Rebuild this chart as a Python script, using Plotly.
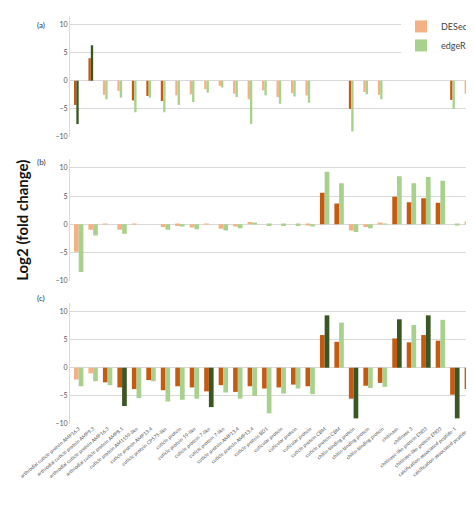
import plotly.graph_objects as go
from plotly.subplots import make_subplots

genes = [
    "arthrodial cuticle protein AMP16.3", "arthrodial cuticle protein AMP9.3",
    "arthrodial cuticle protein AMP16.3", "arthrodial cuticle protein AMP8.1",
    "cuticle protein AM1159-like", "cuticle protein AMP13.4",
    "cuticle protein CP575-like", "cuticle protein", "cuticle protein 19-like",
    "cuticle protein 7-like", "cuticle protein 7-like", "cuticle protein AMP13.4",
    "cuticle protein AMP13.4", "cuticle protein BD1", "cuticular protein",
    "cuticular protein", "cuticular protein", "cuticle protein CBM",
    "cuticle protein CBM", "chitin-binding protein", "chitin-binding protein",
    "chitin-binding protein", "chitinase", "chitinase 3",
    "chitinase-like protein EN03", "chitinase-like protein EN03",
    "calcification-associated peptide-1", "calcification-associated peptide-1",
]

deseq_a = [-4.3, 4.0, -2.5, -1.8, -3.5, -2.7, -3.6, -2.6, -2.4, -1.5, -0.9, -2.3, -3.3, -1.7,
           -2.9, -2.2, -2.6, 0, 0, -5.0, -2.0, -2.5, 0, 0, 0, 0, -3.4, -2.3]
edger_a = [-7.7, 6.3, -3.3, -3.0, -5.6, -3.0, -5.6, -4.3, -3.8, -2.1, -1.2, -2.9, -7.7, -2.6,
           -4.1, -2.8, -3.9, 0, 0, -9.0, -2.4, -3.3, 0, 0, 0, 0, -5.0, -3.2]
deseq_b = [-4.9, -1.0, 0.1, -1.0, 0.1, 0, -0.5, -0.3, -0.6, 0.1, -0.8, -0.4, 0.4, 0,
           0, 0, -0.2, 5.6, 3.7, -1.1, -0.5, 0.2, 4.9, 3.9, 4.6, 3.8, 0, 0.5]
edger_b = [-8.5, -2.0, 0, -1.7, 0, 0, -1.0, -0.4, -0.9, 0, -1.1, -0.7, 0.3, -0.3,
           -0.3, -0.3, -0.4, 9.3, 7.3, -1.4, -0.7, 0.1, 8.5, 7.3, 8.4, 7.7, -0.2, 0.5]
deseq_c = [-2.1, -1.0, -2.6, -3.5, -3.8, -2.2, -4.0, -3.3, -3.5, -4.2, -3.1, -4.3, -3.3, -3.7,
           -3.5, -3.0, -3.3, 5.8, 4.6, -5.5, -3.2, -2.7, 5.2, 4.5, 5.8, 4.8, -4.8, -3.8]
edger_c = [-3.3, -2.4, -3.1, -6.8, -5.4, -2.4, -6.0, -5.7, -5.5, -7.0, -4.4, -5.5, -5.0, -8.1,
           -4.6, -3.7, -4.7, 9.3, 8.0, -9.0, -3.6, -3.4, 8.6, 7.6, 9.3, 8.5, -9.0, -5.6]

# 1 = significant (dark shade), 0 = not significant (light shade)
sig_deseq_a = [1, 1, 0, 0, 1, 1, 1, 0, 0, 0, 0, 0, 0, 0, 0, 0, 0, 0, 0, 1, 0, 0, 0, 0, 0, 0, 1, 0]
sig_edger_a = [1, 1] + [0] * 26
sig_deseq_b = [0] * 17 + [1, 1, 0, 0, 0, 1, 1, 1, 1, 0, 0]
sig_edger_b = [0] * 28
sig_deseq_c = [0, 0] + [1] * 26
sig_edger_c = [0, 0, 0, 1, 0, 0, 0, 0, 0, 1, 0, 0, 0, 0, 0, 0, 0, 1, 0, 1, 0, 0, 1, 0, 1, 0, 1, 0]

ORANGE = ("#F4B183", "#C55A11")
GREEN = ("#A9D18E", "#385723")

x = list(range(len(genes)))
fig = make_subplots(rows=3, cols=1, shared_xaxes=True, vertical_spacing=0.055)

panels = [(deseq_a, edger_a, sig_deseq_a, sig_edger_a),
          (deseq_b, edger_b, sig_deseq_b, sig_edger_b),
          (deseq_c, edger_c, sig_deseq_c, sig_edger_c)]
for r, (d, e, sd, se) in enumerate(panels, start=1):
    fig.add_trace(go.Bar(x=x, y=d, name="DESeq2", marker_color=[ORANGE[s] for s in sd],
                         showlegend=False), row=r, col=1)
    fig.add_trace(go.Bar(x=x, y=e, name="edgeR", marker_color=[GREEN[s] for s in se],
                         showlegend=False), row=r, col=1)
    fig.update_yaxes(range=[-10, 11.5], tickvals=[-10, -5, 0, 5, 10],
                     ticktext=["−10", "−5", "0", "5", "10"], showgrid=True,
                     gridcolor="#d9d9d9", zeroline=False, tickfont=dict(size=7, color="#555"),
                     showline=True, linecolor="#d9d9d9", row=r, col=1)

# legend entries in the light shades
fig.add_trace(go.Bar(x=[None], y=[None], name="DESeq2", marker_color=ORANGE[0]), row=1, col=1)
fig.add_trace(go.Bar(x=[None], y=[None], name="edgeR", marker_color=GREEN[0]), row=1, col=1)

fig.update_xaxes(tickvals=x, ticktext=genes, tickangle=-40, tickfont=dict(size=5, color="#555"),
                 showgrid=False, range=[-0.6, 27.6])

for i, lab in enumerate(["(a)", "(b)", "(c)"]):
    dom = fig.layout["yaxis" + ("" if i == 0 else str(i + 1))].domain
    fig.add_annotation(text=lab, xref="paper", yref="paper", x=-0.085, y=dom[1] - 0.005,
                       showarrow=False, font=dict(size=8, color="#333"), xanchor="left")

fig.update_layout(
    width=474, height=508, template="none", plot_bgcolor="white",
    barmode="group", bargap=0.35, bargroupgap=0,
    font=dict(family="Lato, sans-serif"),
    margin=dict(l=62, r=4, t=8, b=92),
    legend=dict(x=1.0, y=1.01, xanchor="right", yanchor="top", font=dict(size=9),
                bgcolor="rgba(255,255,255,0.9)", itemwidth=30, tracegroupgap=2),
)
fig.add_annotation(text="<b>Log2 (fold change)</b>", xref="paper", yref="paper",
                   x=-0.145, y=0.5, textangle=-90, showarrow=False, font=dict(size=15, color="#111"))
fig.write_html("out.html")
